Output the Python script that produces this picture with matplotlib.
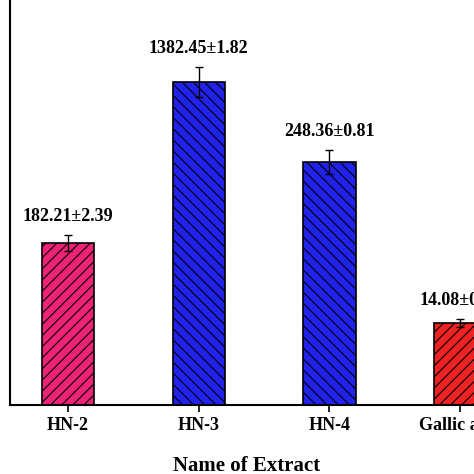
import matplotlib
matplotlib.use("Agg")
import matplotlib.pyplot as plt

categories = ["HN-2", "HN-3", "HN-4", "Gallic acid"]
heights = [162, 323, 243, 82]
errors = [8, 15, 12, 4]
labels = ["182.21±2.39", "1382.45±1.82", "248.36±0.81", "14.08±0.12"]
colors = ["#ee2277", "#2222ee", "#2222ee", "#ee2222"]
hatches = ["///", "\\\\\\", "\\\\\\", "///"]

plt.rcParams['font.family'] = ['Liberation Serif', 'DejaVu Serif']
plt.rcParams['hatch.linewidth'] = 0.8
fig = plt.figure(figsize=(4.74, 4.74), dpi=100)
ax = fig.add_axes([10/474, 69/474, 1.0, 0.9])
x = list(range(len(categories)))
for i in x:
    ax.bar(i, heights[i], width=0.4, color=colors[i], edgecolor='black',
           hatch=hatches[i], linewidth=1.2, zorder=2)
    ax.errorbar(i, heights[i], yerr=errors[i], color='black', capsize=3,
                elinewidth=1, capthick=1, zorder=3)
    ax.text(i, heights[i] + errors[i] + 10, labels[i], ha='center', va='bottom',
            fontsize=13, fontweight='bold')
ax.set_xlim(-0.444, 3.183)
ax.set_ylim(0, 426.6)
ax.set_xticks(x)
ax.set_xticklabels(categories, fontsize=13, fontweight='bold')
ax.set_yticks([])
ax.tick_params(axis='x', direction='out', length=5, width=1.2)
for s in ['top', 'right']:
    ax.spines[s].set_visible(False)
for s in ['left', 'bottom']:
    ax.spines[s].set_linewidth(1.5)
ax.set_xlabel("Name of Extract", fontsize=15, fontweight='bold', labelpad=16)
fig.savefig("out.png", dpi=100)
